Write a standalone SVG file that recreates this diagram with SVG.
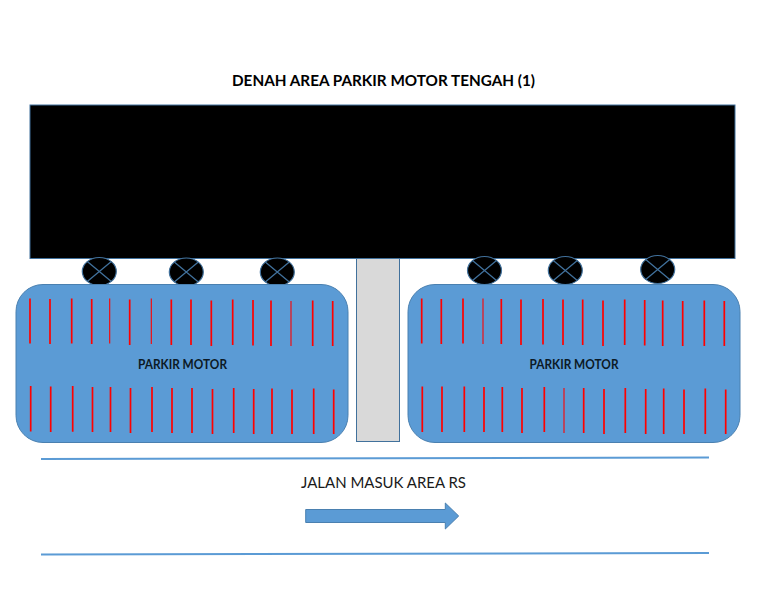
<svg xmlns="http://www.w3.org/2000/svg" width="768" height="594" viewBox="0 0 768 594">
<style>
text{font-family:"Lato","Carlito","Liberation Sans",sans-serif;fill:#000;text-anchor:middle}
.t{font-size:16px;font-weight:700}
.p{font-size:12.500px;font-weight:700;fill:#0c1a26}
.j{font-size:16px;fill:#1a1a1a}
.b{fill:#5b9bd5;stroke:#4a80b0;stroke-width:1}
.r{stroke:#f00;stroke-width:1.7;fill:none}
.n{stroke:#f00;stroke-width:1.1;fill:none}
.x{stroke:#41719c;stroke-width:1.3;fill:none}
.e{fill:#000;stroke:#41719c;stroke-width:1.2}
.road{stroke:#5b9bd5;stroke-width:2;fill:none}
</style>
<rect width="768" height="594" fill="#fff"/>
<text class="t" x="383.500" y="86" textLength="303" lengthAdjust="spacingAndGlyphs">DENAH AREA PARKIR MOTOR TENGAH (1)</text>
<g id="gedung"><rect x="30" y="105" width="705" height="153.500" fill="#000" stroke="#41719c" stroke-width="1"/></g>
<g id="jalur"><rect x="356.500" y="258.500" width="43" height="183" fill="#d9d9d9" stroke="#41719c" stroke-width="1"/></g>
<g id="lampu-1"><ellipse class="e" cx="99.300" cy="271.500" rx="17" ry="14"/><path class="x" d="M87.300 261.600 111.300 281.400M111.300 261.600 87.300 281.400"/></g>
<g id="lampu-2"><ellipse class="e" cx="186.300" cy="272" rx="17" ry="14"/><path class="x" d="M174.300 262.100 198.300 281.900M198.300 262.100 174.300 281.900"/></g>
<g id="lampu-3"><ellipse class="e" cx="277.300" cy="272" rx="17" ry="14"/><path class="x" d="M265.300 262.100 289.300 281.900M289.300 262.100 265.300 281.900"/></g>
<g id="lampu-4"><ellipse class="e" cx="484.500" cy="270.500" rx="17" ry="14"/><path class="x" d="M472.500 260.600 496.500 280.400M496.500 260.600 472.500 280.400"/></g>
<g id="lampu-5"><ellipse class="e" cx="565.300" cy="270.500" rx="17" ry="14"/><path class="x" d="M553.300 260.600 577.300 280.400M577.300 260.600 553.300 280.400"/></g>
<g id="lampu-6"><ellipse class="e" cx="657.700" cy="269.500" rx="17" ry="14"/><path class="x" d="M645.700 259.600 669.700 279.400M669.700 259.600 645.700 279.400"/></g>
<g id="parkir-kiri">
<rect class="b" x="16" y="284.500" width="332" height="158" rx="27" ry="27"/>
<text class="p" x="182.500" y="368.500" textLength="89" lengthAdjust="spacingAndGlyphs">PARKIR MOTOR</text>
<path class="r" d="M30 298.500V343.500M50 299V344M71.700 298.500V343.500M91.700 299V344M129.700 299.500V345M171.300 299.500V345M191 299.500V345M211.300 300.500V346M232.700 299.500V345M253 300V345.500M271 300.500V346M312.700 300.500V346M332.700 301V346"/>
<path class="n" d="M109.700 298.500V343.500M151.300 298.500V344M291 301V346"/>
<path class="r" d="M30.700 386V431.500M50.700 386.500V432M72.700 386V431.700M92.500 387V432M110.500 387V432M130.500 388V433M152 387V432M172 388V433M192 388V433M212.500 389V434M233.700 388V433M253.700 389V434M272 388.500V434M292 389.500V434M313.700 388.500V434M333.700 389.500V434"/>
</g>
<g id="parkir-kanan">
<rect class="b" x="408" y="284.500" width="332" height="158" rx="27" ry="27"/>
<text class="p" x="574" y="368.500" textLength="89" lengthAdjust="spacingAndGlyphs">PARKIR MOTOR</text>
<path class="r" d="M421.700 298.500V343.500M441.300 299V344M463 298.500V343.500M501.300 299V344M521 299.500V345M543 299V344.500M563 299.500V345M582.700 299.500V345M603 300.500V346M624.700 299.500V345M644.700 300V345.500M662.700 300.500V346M682.700 301V346M704.300 300.500V346M724.300 301V346"/>
<path class="n" d="M483 298.500V344"/>
<path class="r" d="M422.300 386.500V432M442 386.500V432M464.300 386.500V432M484 387V432M502.300 387V432M522 388V433M544.300 387V432M583.700 388V433M604 389V434M625.300 388V433M645.700 389V434M663.700 388.500V434M684 389.500V434M705.300 388.500V434M725.700 389.500V434"/>
<path class="n" d="M564 388V433"/>
</g>
<g id="connectors">
<path class="road" d="M41 459 709 457.500"/>
<path class="road" d="M41 554.500 709 553"/>
</g>
<text class="j" x="383.500" y="487.500" textLength="165" lengthAdjust="spacingAndGlyphs">JALAN MASUK AREA RS</text>
<g id="panah"><path class="b" d="M305.700 509.500H445.300V503L458.700 516 445.300 529V522.500H305.700Z"/></g>
</svg>
